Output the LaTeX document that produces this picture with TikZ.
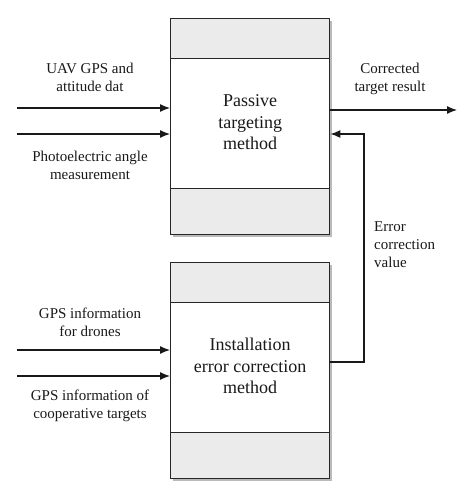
\documentclass[tikz,border=0pt]{standalone}
\usepackage{fontspec}
\setmainfont{Liberation Serif}
\usetikzlibrary{arrows.meta,positioning,shadows}

\tikzset{
    outerbox/.style={draw=black!85, line width=1.4pt, fill=black!8, inner sep=0pt,
        minimum width=159pt, minimum height=216pt, anchor=north west,
        drop shadow={shadow xshift=2.5pt, shadow yshift=-2.5pt, fill=black!45, opacity=0.6}},
    innerbox/.style={draw=black!85, line width=1.4pt, fill=white, inner sep=0pt,
        minimum width=159pt, minimum height=130pt, anchor=north west, align=center,
        font=\fontsize{18}{21.5}\selectfont, text=black!90},
    lbl/.style={align=center, font=\fontsize{15}{18}\selectfont, text=black!90, inner sep=1pt},
    flow/.style={->, line width=1.2pt, draw=black!90}
}

\begin{document}
\begin{tikzpicture}[x=1pt, y=-1pt, >={Latex[length=10pt,width=8pt]}]
    \useasboundingbox (0,0) rectangle (474,504);

    % Passive targeting block
    \node[outerbox] (ptop) at (170,18) {};
    \node[innerbox] (passive) at (170,58) {\raisebox{3pt}{\begin{tabular}{@{}c@{}}Passive\\targeting\\method\end{tabular}}};

    % Installation error correction block
    \node[outerbox] (ibot) at (170,262) {};
    \node[innerbox] (install) at (170,302) {\raisebox{4pt}{\begin{tabular}{@{}c@{}}Installation\\error correction\\method\end{tabular}}};

    % Input labels
    \node[lbl] (uavlbl) at (90,77) {UAV GPS and\\attitude dat};
    \node[lbl] (photolbl) at (90,165) {Photoelectric angle\\measurement};
    \node[lbl] (dronelbl) at (90,322) {GPS information\\for drones};
    \node[lbl] (cooplbl) at (90,406) {GPS information of\\cooperative targets};
    \node[lbl] (outlbl) at (390,79) {Corrected\\target result};
    \node[lbl, align=left, anchor=west] (errlbl) at (373,245) {Error\\correction\\value};

    % Input arrows
    \coordinate (uav) at (17,108);
    \coordinate (photo) at (17,134);
    \coordinate (drone) at (17,350);
    \coordinate (coop) at (17,376);
    \draw[flow] (uav) -- (uav -| ptop.west);
    \draw[flow] (photo) -- (photo -| ptop.west);
    \draw[flow] (drone) -- (drone -| ibot.west);
    \draw[flow] (coop) -- (coop -| ibot.west);

    % Output and feedback
    \coordinate (result) at (457,110);
    \draw[flow] (result -| ptop.east) -- (result);
    \coordinate (fbturn) at (364,362);
    \coordinate (fbend) at (0,134);
    \draw[flow] (fbturn -| ibot.east) -- (fbturn) |- (fbend -| ptop.east);

\end{tikzpicture}
\end{document}
